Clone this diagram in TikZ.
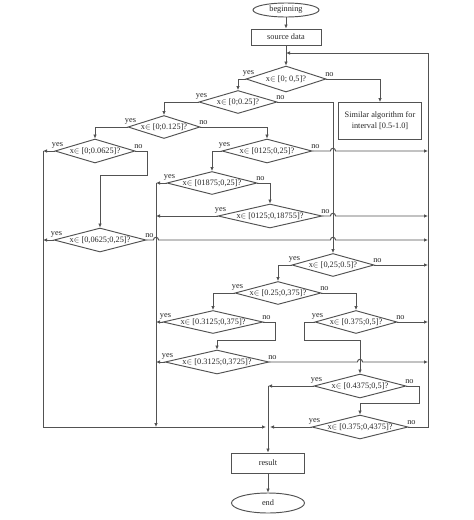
\documentclass[tikz,border=0pt]{standalone}
\usepackage{fontspec}
\setmainfont{Liberation Serif}
\usetikzlibrary{shapes.geometric,arrows.meta}
\begin{document}
\begin{tikzpicture}[x=1pt,y=-1pt,
  every node/.style={font=\fontsize{8.3}{11}\selectfont, text=black!85},
  ln/.style={draw=black!68, line width=0.95pt},
  arr/.style={ln, -{Latex[length=4pt,width=3.6pt]}},
  dia/.style={diamond, draw=black!68, line width=0.95pt, inner sep=0pt},
  box/.style={rectangle, draw=black!68, line width=0.95pt, inner sep=0pt},
  ell/.style={ellipse, draw=black!68, line width=0.95pt, inner sep=0pt},
  lbl/.style={inner sep=0.5pt, anchor=south},
  hop/.style args={#1/#2}{insert path={-- (#1-2.6,#2) .. controls (#1-2.6,#2-3.6) and (#1+2.6,#2-3.6) .. (#1+2.6,#2)}}
]
\useasboundingbox (0,0) rectangle (474,520);

% nodes
\node[ell, minimum width=66pt, minimum height=14pt] (b) at (286,10) {\makebox[0pt]{beginning}};
\node[box, minimum width=70pt, minimum height=16pt] (src) at (286,37) {source data};
\node[dia, minimum width=80pt, minimum height=26pt] (d1) at (286,79) {\makebox[0pt]{x$\in$ [0; 0,5]?}};
\node[box, minimum width=83pt, minimum height=37pt, align=center] (sim) at (380,121) {Similar algorithm for\\interval [0.5-1.0]};
\node[dia, minimum width=78pt, minimum height=23pt] (d2) at (238,102) {\makebox[0pt]{x$\in$ [0;0.25]?}};
\node[dia, minimum width=72pt, minimum height=23pt] (d3) at (164,127) {\makebox[0pt]{x$\in$ [0;0.125]?}};
\node[dia, minimum width=80pt, minimum height=24pt] (d4) at (95,151) {\makebox[0pt]{x$\in$ [0;0.0625]?}};
\node[dia, minimum width=90pt, minimum height=24pt] (d5) at (267,151) {\makebox[0pt]{x$\in$ [0125;0,25]?}};
\node[dia, minimum width=90pt, minimum height=23pt] (d6) at (212,183) {\makebox[0pt]{x$\in$ [01875;0,25]?}};
\node[dia, minimum width=104pt, minimum height=24pt] (d7) at (270,216) {\makebox[0pt]{x$\in$ [0125;0,18755]?}};
\node[dia, minimum width=92pt, minimum height=24pt] (d8) at (100,240) {\makebox[0pt]{x$\in$ [0,0625;0,25]?}};
\node[dia, minimum width=82pt, minimum height=23pt] (d9) at (333,265) {\makebox[0pt]{x$\in$ [0,25;0.5]?}};
\node[dia, minimum width=86pt, minimum height=23pt] (d10) at (278,293) {\makebox[0pt]{x$\in$ [0.25;0,375]?}};
\node[dia, minimum width=100pt, minimum height=23pt] (d11) at (213,322) {\makebox[0pt]{x$\in$ [0.3125;0,375]?}};
\node[dia, minimum width=82pt, minimum height=23pt] (d12) at (356,322) {\makebox[0pt]{x$\in$ [0.375;0,5]?}};
\node[dia, minimum width=104pt, minimum height=24pt] (d13) at (217,362) {\makebox[0pt]{x$\in$ [0.3125;0,3725]?}};
\node[dia, minimum width=92pt, minimum height=24pt] (d14) at (360,386) {\makebox[0pt]{x$\in$ [0.4375;0,5]?}};
\node[dia, minimum width=96pt, minimum height=24pt] (d15) at (360,427) {\makebox[0pt]{x$\in$ [0.375;0,4375]?}};
\node[box, minimum width=73pt, minimum height=20pt] (res) at (268,463) {result};
\node[ell, minimum width=73pt, minimum height=20pt] (e) at (268,503) {\makebox[0pt]{end}};

% yes / no labels
\foreach \n in {d1,d2,d3,d4,d5,d6,d7,d8,d9,d10,d11,d12,d13,d14,d15}{
  \node[lbl] at ([shift={(3pt,2pt)}]\n.west) {yes};
  \node[lbl] at ([shift={(3pt,2pt)}]\n.east) {no};
}

% helper coordinates
\coordinate (T) at (286,53);
\coordinate (R) at (428,53);
\coordinate (L) at (43,151);
\coordinate (M) at (156,183);
\coordinate (J) at (268,427);
\coordinate (JT) at (268,386);

% connectors
\draw[arr] (b) -- (src);
\draw[arr] (src) -- (d1);
\draw[arr] (d1.east) -| (sim.north);
\draw[arr] (d1.west) -| (d2.north);
\draw[arr] (d2.west) -| (d3.north);
\draw[arr] (d2.east) -| (d9.north);
\draw[arr] (d3.west) -| (d4.north);
\draw[arr] (d3.east) -| (d5.north);
\draw[arr] (d4.west) -- (L);
\draw[arr] (d4.east) -- ++(12,0) -- ++(0,24) -| (d8.north);
\draw[arr] (d5.west) -| (d6.north);
\draw[arr] (d5.east) [hop={333/151}] -- (d5.east -| R);
\draw[arr] (d6.west) -- (M);
\draw[arr] (d6.east) -| (d7.north);
\draw[arr] (d7.west) -- (d7.west -| M);
\draw[arr] (d7.east) [hop={333/216}] -- (d7.east -| R);
\draw[arr] (d8.west) -- (d8.west -| L);
\draw[arr] (d8.east) [hop={156/240}] [hop={333/240}] -- (d8.east -| R);
\draw[arr] (d9.west) -| (d10.north);
\draw[arr] (d9.east) -- (d9.east -| R);
\draw[arr] (d10.west) -| (d11.north);
\draw[arr] (d10.east) -| (d12.north);
\draw[arr] (d11.west) -- (d11.west -| M);
\draw[arr] (d11.east) -- ++(12,0) -- ++(0,18) -| (d13.north);
\draw[arr] (d12.west) -- ++(-10,0) -- ++(0,18) -| (d14.north);
\draw[arr] (d12.east) -- (d12.east -| R);
\draw[arr] (d13.west) -- (d13.west -| M);
\draw[arr] (d13.east) [hop={360/362}] -- (d13.east -| R);
\draw[arr] (d14.west) -- (JT);
\draw[arr] (d14.east) -- ++(13,0) -- ++(0,17) -| (d15.north);
\draw[arr] (d15.west) -- ([xshift=2pt]J);
\draw[arr] (d15.east) -- (d15.east -| R) -- (R) -- (T);
\draw[arr] (L) -- (L |- J) -- ([xshift=-2pt]J);
\draw[arr] (M) -- (M |- J);
\draw[arr] (JT) -- (res);
\draw[arr] (res) -- (e);
\end{tikzpicture}
\end{document}
